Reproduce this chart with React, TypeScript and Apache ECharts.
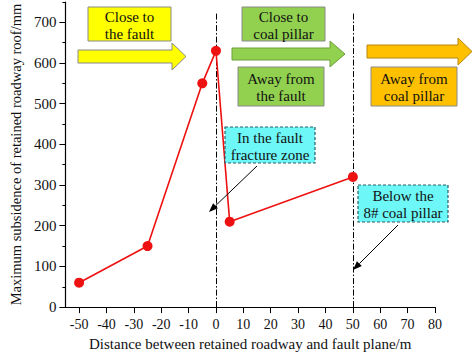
import React, { useEffect, useRef } from "react";
import * as echarts from "echarts";

const distances = [-50, -25, -5, 0, 5, 50];
const subsidence = [60, 150, 550, 630, 210, 320];
const xTickValues = [-50, -40, -30, -20, -10, 0, 10, 20, 30, 40, 50, 60, 70, 80];
const yTickValues = [0, 100, 200, 300, 400, 500, 600, 700];
const boundaryLines = [0, 50];
const boundaryTop = 725;

const FONT = "Liberation Serif";

function box(x: number, y: number, w: number, h: number, fill: string, text: string, dashed = false) {
  return [
    {
      type: "rect",
      shape: { x, y, width: w, height: h },
      style: {
        fill,
        stroke: dashed ? "#2e5d66" : "#8a8a8a",
        lineWidth: dashed ? 1.2 : 1,
        lineDash: dashed ? [3, 2] : null,
      },
      z: 10,
    },
    {
      type: "text",
      x: x + w / 2,
      y: y + h / 2 + 1,
      style: {
        text,
        fill: "#111",
        fontFamily: FONT,
        fontSize: 15,
        lineHeight: 17,
        textAlign: "center",
        textVerticalAlign: "middle",
      },
      z: 11,
    },
  ];
}

function blockArrow(x0: number, x1: number, tip: number, by0: number, by1: number, hy0: number, hy1: number, fill: string, stroke: string) {
  const cy = (hy0 + hy1) / 2;
  return {
    type: "polygon",
    shape: {
      points: [
        [x0, by0],
        [x1, by0],
        [x1, hy0],
        [tip, cy],
        [x1, hy1],
        [x1, by1],
        [x0, by1],
      ],
    },
    style: { fill, stroke, lineWidth: 1 },
    z: 10,
  };
}

function pointer(x0: number, y0: number, x1: number, y1: number) {
  const dx = x1 - x0;
  const dy = y1 - y0;
  const len = Math.sqrt(dx * dx + dy * dy);
  const ux = dx / len;
  const uy = dy / len;
  const bx = x1 - ux * 9;
  const by = y1 - uy * 9;
  const px = -uy * 3.5;
  const py = ux * 3.5;
  return [
    {
      type: "line",
      shape: { x1: x0, y1: y0, x2: bx, y2: by },
      style: { stroke: "#000", lineWidth: 1 },
      z: 10,
    },
    {
      type: "polygon",
      shape: { points: [[x1, y1], [bx + px, by + py], [bx - px, by - py]] },
      style: { fill: "#000" },
      z: 10,
    },
  ];
}

export default function App() {
  const ref = useRef<HTMLDivElement>(null);
  useEffect(() => {
    if (!ref.current) return;
    const chart = echarts.init(ref.current, null, { renderer: "svg" });
    const axisFont = { fontFamily: FONT, color: "#111" };
    chart.setOption({
      animation: false,
      backgroundColor: "#fff",
      grid: { left: 53, right: 39, top: 2, bottom: 48, containLabel: false },
      xAxis: {
        type: "value",
        min: -55,
        max: 80,
        interval: 5,
        name: "Distance between retained roadway and fault plane/m",
        nameLocation: "middle",
        nameGap: 27,
        nameTextStyle: { ...axisFont, fontSize: 15 },
        axisLine: { onZero: false, lineStyle: { color: "#000", width: 1.2 } },
        axisTick: { show: true, length: 6, inside: false, customValues: xTickValues, lineStyle: { color: "#000" } },
        axisLabel: { ...axisFont, fontSize: 14, margin: 10, customValues: xTickValues },
        splitLine: { show: false },
      },
      yAxis: [
        {
          type: "value",
          min: 0,
          max: 750,
          interval: 50,
          name: "Maximum subsidence of retained roadway roof/mm",
          nameLocation: "middle",
          nameGap: 34,
          nameTextStyle: { ...axisFont, fontSize: 14.5 },
          axisLine: { show: true, onZero: false, lineStyle: { color: "#000", width: 1.2 } },
          axisTick: { show: true, length: 3, lineStyle: { color: "#000" } },
          axisLabel: { ...axisFont, fontSize: 15, margin: 9, customValues: yTickValues },
          splitLine: { show: false },
        },
        {
          type: "value",
          min: 0,
          max: 750,
          interval: 50,
          position: "left",
          axisLine: { show: false, onZero: false },
          axisTick: { show: true, length: 6, customValues: yTickValues, lineStyle: { color: "#000" } },
          axisLabel: { show: false },
          splitLine: { show: false },
        },
      ],
      series: [
        {
          type: "line",
          data: distances.map((d, i) => [d, subsidence[i]]),
          symbol: "circle",
          symbolSize: 10,
          itemStyle: { color: "#ee1111" },
          lineStyle: { color: "#ee1111", width: 1.6 },
          markLine: {
            silent: true,
            symbol: "none",
            label: { show: false },
            lineStyle: { color: "#000", width: 1, type: [6, 2, 1.5, 2] },
            data: boundaryLines.map((v) => [
              { coord: [v, 0] },
              { coord: [v, boundaryTop] },
            ]),
          },
          z: 5,
        },
      ],
      graphic: [
        ...box(88, 7, 83, 34, "#ffff00", "Close to\nthe fault"),
        blockArrow(78, 172, 186, 50, 63, 43, 70, "#ffff00", "#8a8a8a"),
        ...box(242, 7, 83, 34, "#92d050", "Close to\ncoal pillar"),
        blockArrow(232, 330, 345, 48, 60, 41, 67, "#92d050", "#6f9e3a"),
        ...box(238, 67, 86, 39, "#92d050", "Away from\nthe fault"),
        blockArrow(367, 458, 472, 45, 58, 38, 65, "#ffc000", "#b8860b"),
        ...box(371, 67, 86, 39, "#ffc000", "Away from\ncoal pillar"),
        ...box(225, 127, 90, 36, "#6ef7f7", "In the fault\nfracture zone", true),
        ...pointer(257, 166, 209, 212),
        ...box(358, 185, 90, 37, "#6ef7f7", "Below the\n8# coal pillar", true),
        ...pointer(398, 225, 353, 270),
      ],
    });
    return () => chart.dispose();
  }, []);
  return (
    <div
      ref={ref}
      style={{ position: "fixed", left: 0, top: 0, width: 474, height: 356 }}
    />
  );
}
